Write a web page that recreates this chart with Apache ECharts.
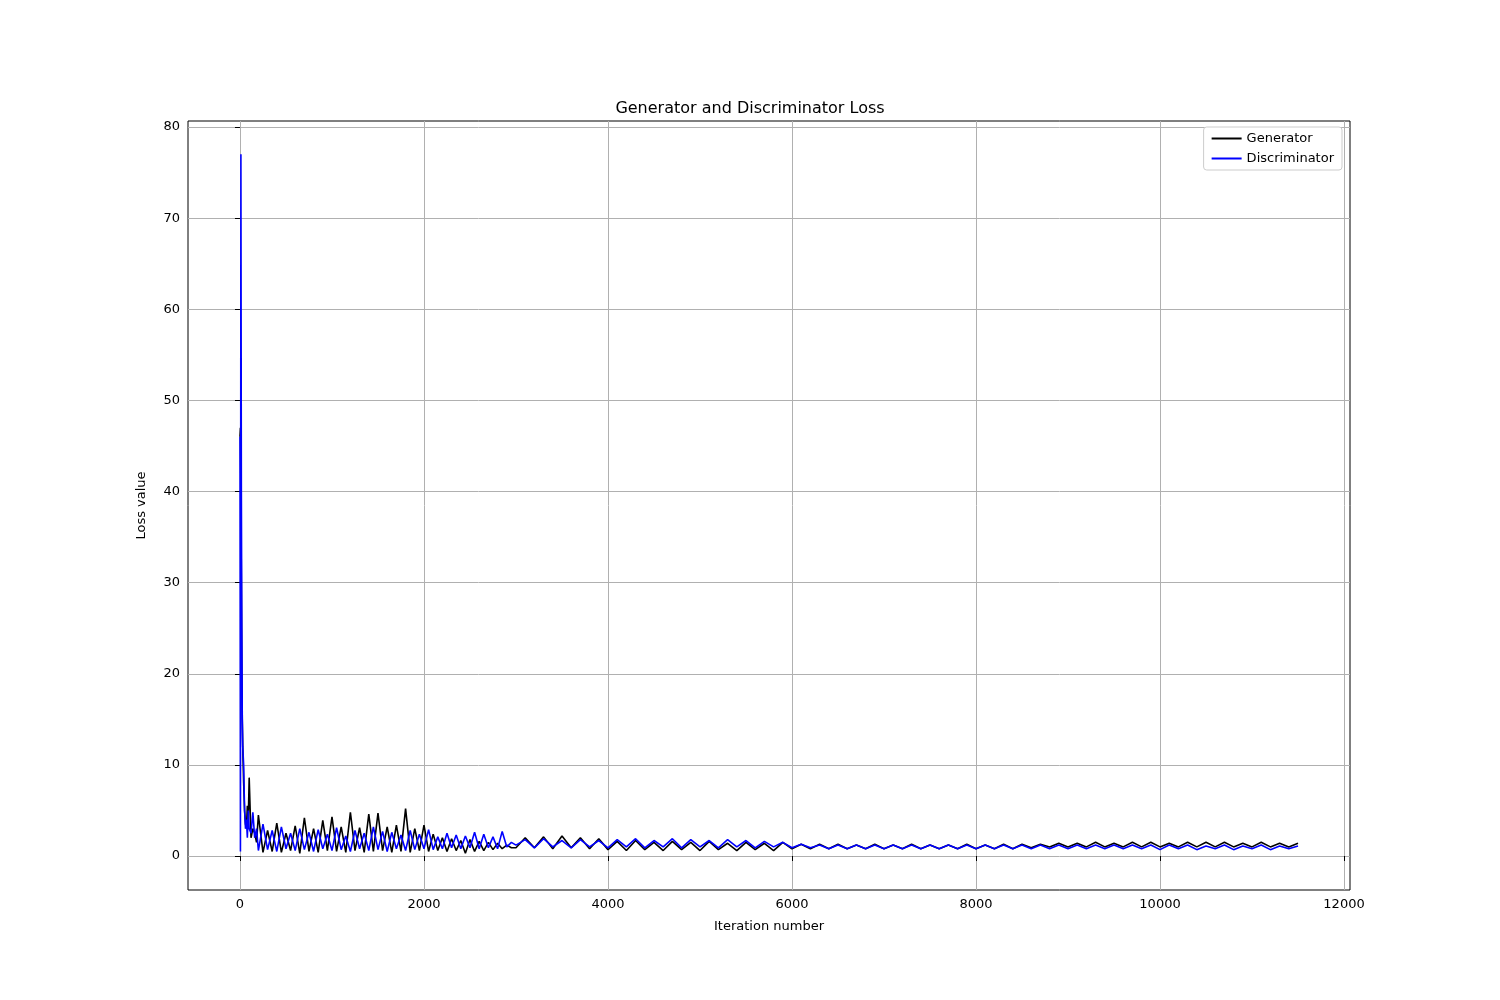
<!DOCTYPE html>
<html><head><meta charset="utf-8">
<script src="https://cdn.jsdelivr.net/npm/echarts@6/dist/echarts.min.js"></script>
<style>html,body{margin:0;padding:0;background:#fff}#c{width:1500px;height:1000px}</style>
</head><body><div id="c"></div>
<script>
const earlyIter = [0,5,10,15,20,25,30,40,50,60,70,80,90,100,120,140,160,180];
const earlyGen = [46,47,40,30,20,15,12,8,5,3.5,3,5.5,4,8.6,2,3,2.5,1.5];
const earlyDisc = [46,0.5,77,40,25,15,12,10,5,3,4,2,5,3,2.5,4.8,2,3];
const midGen = [4.5,0.4,2.8,0.5,3.6,0.4,2.5,0.6,3.3,0.3,4.2,0.5,3.0,0.4,3.9,0.6,4.3,0.5,3.2,0.4,4.8,0.6,3.1,0.4,4.6,0.5,4.7,0.6,3.2,0.4,3.4,0.5,5.2,0.4,3.0,0.6,3.4,0.5,2.4,0.6,2.0,0.5,1.9,0.6,1.7,0.3,1.8,0.5,1.6,0.6,1.5,0.7,1.4,0.8,1.2,0.9];
const midDisc = [0.6,3.5,0.7,2.8,0.5,3.2,0.8,2.5,0.6,3.0,0.7,2.6,0.5,2.9,0.8,2.4,0.6,3.1,0.7,2.2,0.5,2.8,0.8,2.5,0.6,3.2,0.7,2.7,0.5,2.6,0.8,2.3,0.6,2.8,0.7,2.4,0.8,2.9,0.7,2.1,0.8,2.5,0.9,2.3,0.8,2.2,0.9,2.6,0.8,2.4,0.9,2.1,0.8,2.7,1.0,1.5];
const lateGen = [0.9,2.0,0.9,2.1,0.8,2.2,0.9,2.0,0.8,1.9,0.7,1.6,0.6,1.7,0.7,1.5,0.6,1.6,0.7,1.5,0.6,1.6,0.7,1.4,0.6,1.5,0.7,1.4,0.6,1.5,0.8,1.3,0.8,1.3,0.8,1.3,0.8,1.2,0.8,1.3,0.8,1.2,0.8,1.3,0.8,1.2,0.8,1.2,0.8,1.3,0.8,1.2,0.8,1.3,0.8,1.3,0.9,1.3,1.0,1.4,1.0,1.4,1.0,1.5,1.0,1.4,1.0,1.5,1.0,1.5,1.0,1.4,1.0,1.5,1.0,1.5,1.0,1.5,1.0,1.4,1.0,1.5,1.0,1.4,1.0,1.4];
const lateDisc = [1.2,1.8,0.9,1.9,1.0,1.7,0.9,1.8,1.0,1.7,0.9,1.8,1.0,1.9,0.9,1.7,1.0,1.9,0.9,1.8,1.0,1.7,0.9,1.8,1.0,1.7,0.9,1.6,1.0,1.5,0.9,1.3,0.9,1.2,0.8,1.2,0.8,1.2,0.8,1.2,0.8,1.2,0.8,1.2,0.8,1.2,0.8,1.2,0.8,1.2,0.8,1.2,0.8,1.2,0.8,1.2,0.8,1.2,0.8,1.2,0.8,1.2,0.8,1.2,0.8,1.2,0.8,1.2,0.8,1.2,0.7,1.2,0.8,1.2,0.7,1.1,0.8,1.2,0.7,1.1,0.8,1.2,0.7,1.1,0.8,1.1];
const xTicks = [0,2000,4000,6000,8000,10000,12000];
const yTicks = [0,10,20,30,40,50,60,70,80];

const iters = earlyIter.slice();
for (let i = 0; i < midGen.length; i++) iters.push(200 + 50*i);
for (let i = 0; i < lateGen.length; i++) iters.push(3000 + 100*i);
const gen = earlyGen.concat(midGen, lateGen);
const disc = earlyDisc.concat(midDisc, lateDisc);
const pair = (ys) => ys.map((y,i)=>[iters[i], y]);

const font = 'DejaVu Sans';
const chart = echarts.init(document.getElementById('c'));
chart.setOption({
  animation:false,
  textStyle:{fontFamily:font},
  title:{text:'Generator and Discriminator Loss',left:'center',top:96,textStyle:{fontFamily:font,fontSize:16,fontWeight:'normal',color:'#000'}},
  legend:{top:127,right:158,orient:'vertical',itemWidth:30,itemHeight:2,itemGap:7,
    backgroundColor:'#fff',borderColor:'#ccc',borderWidth:1,borderRadius:3,padding:[5,8],
    textStyle:{fontFamily:font,fontSize:13,color:'#000'},
    data:[{name:'Generator',icon:'rect'},{name:'Discriminator',icon:'rect'}]},
  grid:{left:188,right:150,top:121,bottom:110,show:true,borderColor:'#000',borderWidth:1,backgroundColor:'transparent'},
  xAxis:{type:'value',min:-565,max:12065,name:'Iteration number',nameLocation:'middle',nameGap:30,
    nameTextStyle:{fontFamily:font,fontSize:13,color:'#000'},
    axisLine:{show:false},
    axisTick:{show:true,length:5,lineStyle:{color:'#000'},customValues:xTicks},
    axisLabel:{color:'#000',fontSize:13,fontFamily:font,customValues:xTicks,formatter:v=>String(v)},
    splitLine:{show:true,lineStyle:{color:'#b0b0b0',width:1}}},
  yAxis:{type:'value',min:-3.73,max:80.66,name:'Loss value',nameLocation:'middle',nameGap:40,
    nameTextStyle:{fontFamily:font,fontSize:13,color:'#000'},
    axisLine:{show:false},
    axisTick:{show:true,length:5,lineStyle:{color:'#000'},customValues:yTicks},
    axisLabel:{color:'#000',fontSize:13,fontFamily:font,customValues:yTicks,formatter:v=>String(v)},
    splitLine:{show:true,lineStyle:{color:'#b0b0b0',width:1}}},
  series:[
    {name:'Generator',type:'line',data:pair(gen),showSymbol:false,color:'#000',lineStyle:{width:1.6,color:'#000'}},
    {name:'Discriminator',type:'line',data:pair(disc),showSymbol:false,color:'#0000ff',lineStyle:{width:1.6,color:'#0000ff'}}
  ]
});
</script></body></html>
